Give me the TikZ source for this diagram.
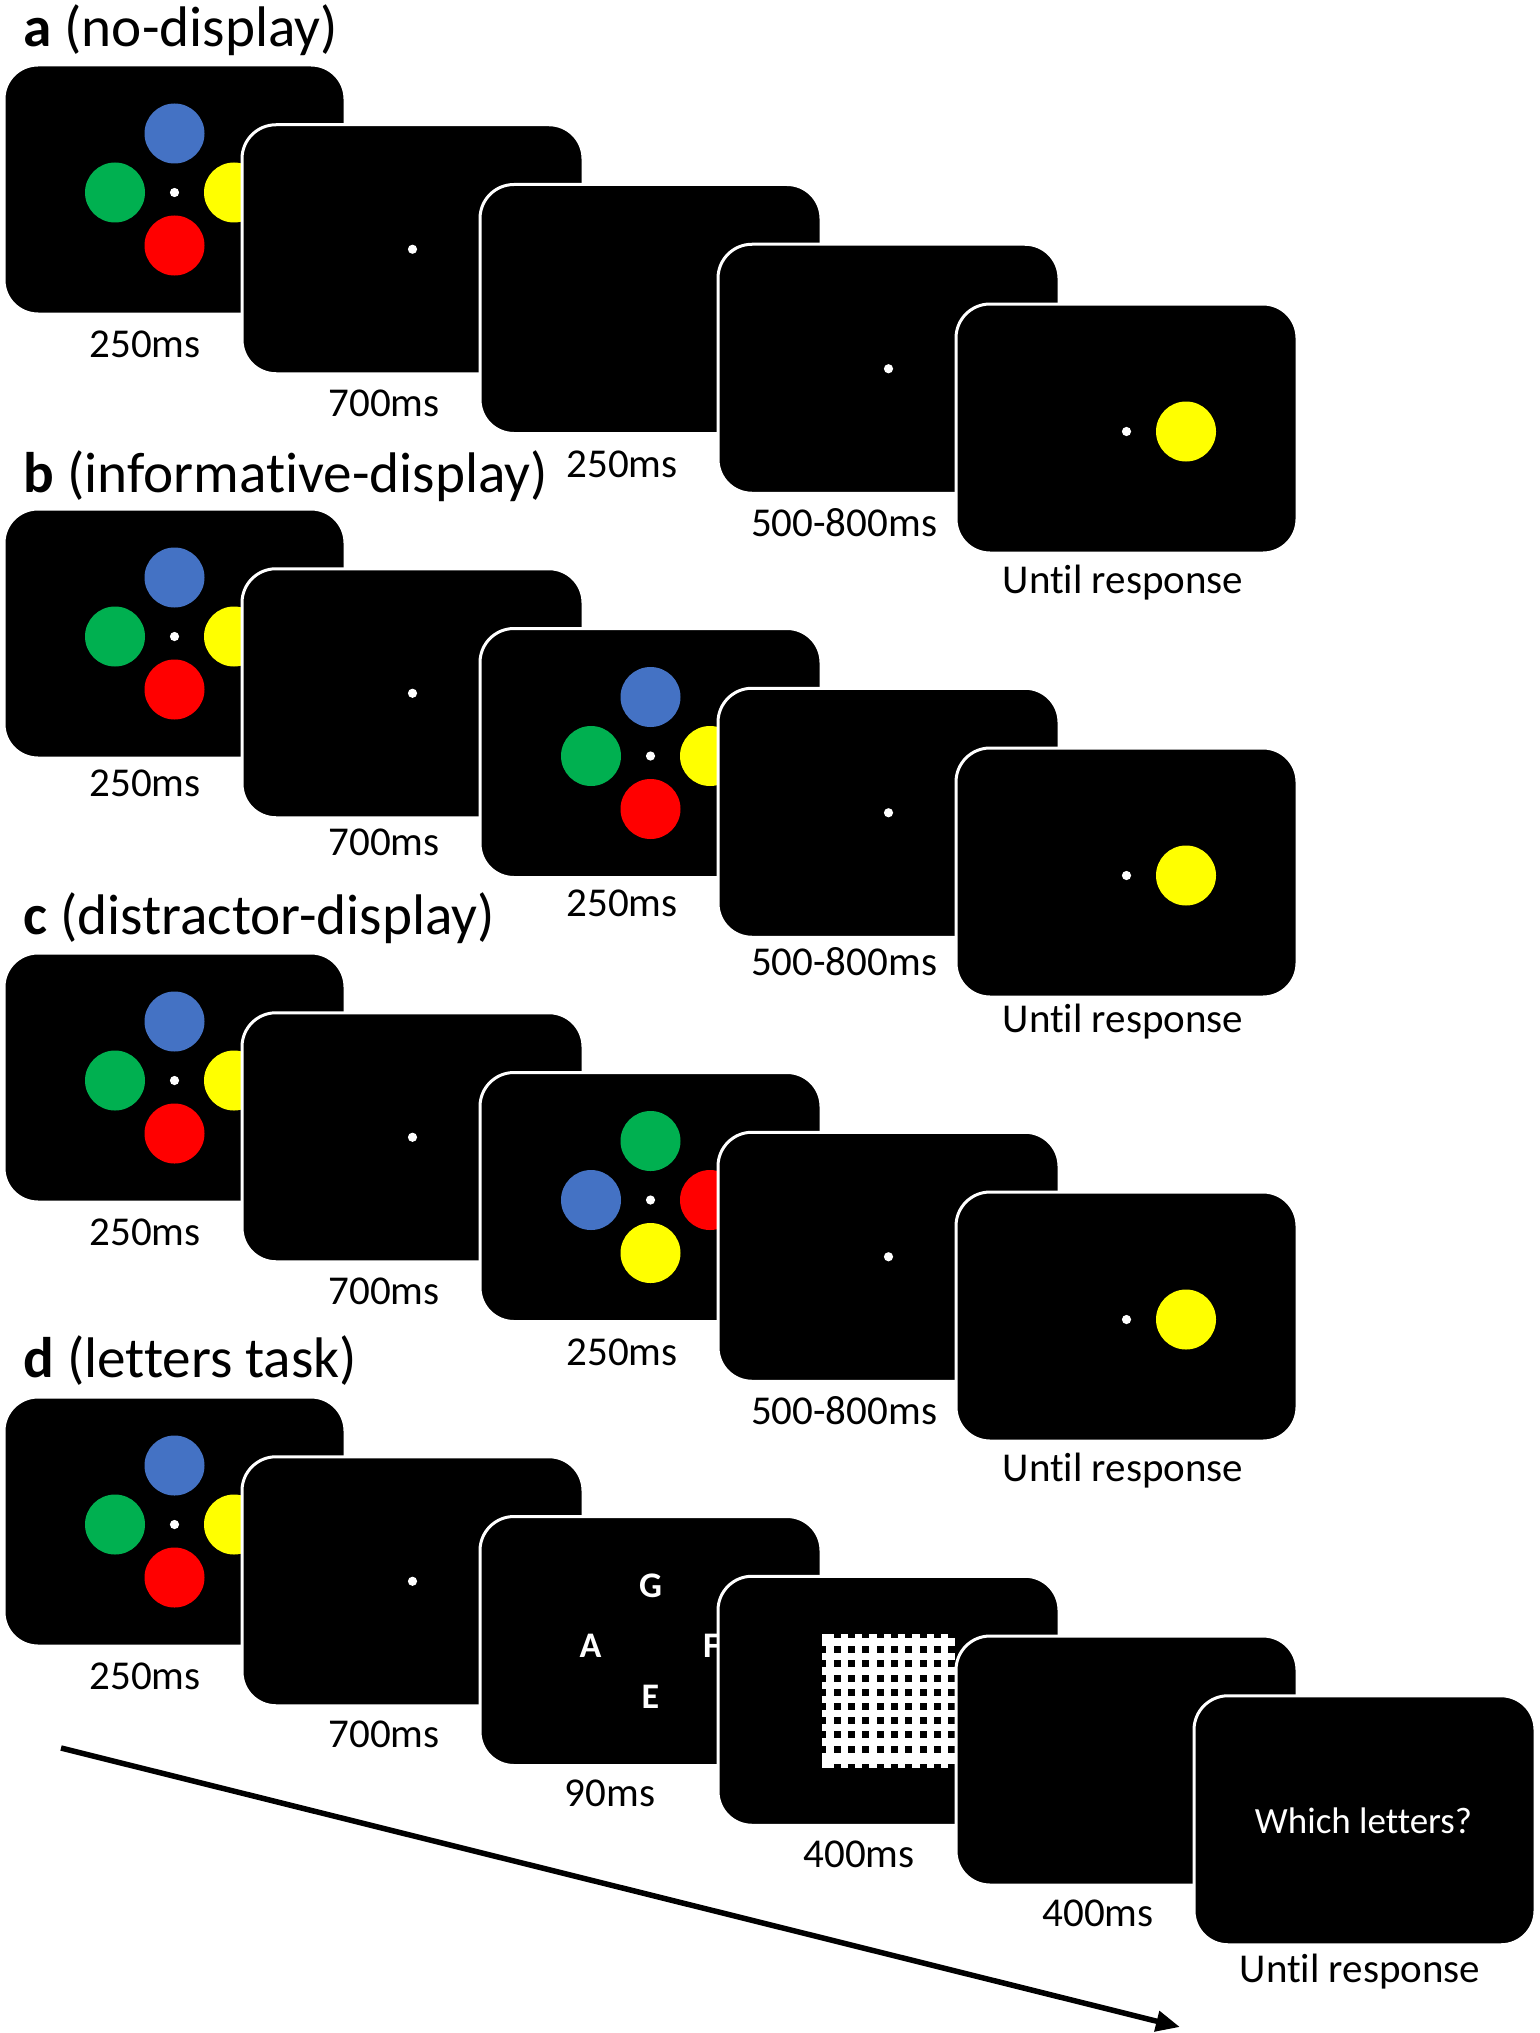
\documentclass[tikz,border=0pt]{standalone}
\usepackage{fontspec}
\setmainfont{Carlito}[Ligatures=NoCommon]
\usetikzlibrary{arrows.meta}
\definecolor{cblue}{HTML}{4472C4}
\definecolor{cgreen}{HTML}{00B050}
\definecolor{cred}{HTML}{FF0000}
\definecolor{cyellow}{HTML}{FFFF00}
\newcommand\fourdisc[5]{%
  \node[disc, fill=#2] (#1t) at ([shift={(0,-56)}]#1.center) {};
  \node[disc, fill=#3] (#1l) at ([shift={(-59.5,3)}]#1.center) {};
  \node[disc, fill=#4] (#1r) at ([shift={(59.5,3)}]#1.center) {};
  \node[disc, fill=#5] (#1b) at ([shift={(0,56)}]#1.center) {};
  \node[fixdot] (#1f) at ([shift={(0,3)}]#1.center) {};
}
\begin{document}
\begin{tikzpicture}[x=0.5pt,y=-0.5pt,
  screen/.style={draw=white, fill=black, line width=1.5pt, rounded corners=17pt,
    minimum width=170.5pt, minimum height=124.5pt, inner sep=0pt, outer sep=0pt},
  fixdot/.style={circle, fill=white, draw=none, minimum size=4.6pt, inner sep=0pt},
  disc/.style={circle, draw=none, minimum size=30pt, inner sep=0pt},
  dur/.style={font=\fontsize{20.5pt}{24pt}\selectfont, anchor=base, inner sep=0pt},
  ttl/.style={font=\fontsize{28.6pt}{33pt}\selectfont, anchor=base west, inner sep=0pt},
  letter/.style={text=white, font=\fontsize{18pt}{20pt}\selectfont\bfseries, inner sep=0pt},
  arr/.style={line width=2.75pt, -{Triangle[length=12pt, width=10pt]}}
]
\fill[white] (0,0) rectangle (1540,2033);
\useasboundingbox (0,0) rectangle (1540,2033);

% ---------------- panel a ----------------
\node[ttl] (ta) at (23,47) {\textbf{a} (no-display)};
\node[screen] (a1) at (174.5,189.5) {};
\fourdisc{a1}{cblue}{cgreen}{cyellow}{cred}
\node[dur] (la1) at ([shift={(141,43)}]a1.south west) {250ms};
\node[screen] (a2) at (412.5,249.25) {};
\node[fixdot] (a2f) at (a2.center) {};
\node[dur] (la2) at ([shift={(142,43)}]a2.south west) {700ms};
\node[screen] (a3) at (650.5,309) {};
\node[dur] (la3) at ([shift={(142,44)}]a3.south west) {250ms};
\node[screen] (a4) at (888.5,368.75) {};
\node[fixdot] (a4f) at (a4.center) {};
\node[dur] (la4) at ([shift={(126,43)}]a4.south west) {500-800ms};
\node[screen] (a5) at (1126.5,428.5) {};
\node[fixdot] (a5f) at ([shift={(0,3)}]a5.center) {};
\node[disc, fill=cyellow] (a5y) at ([shift={(59.5,3)}]a5.center) {};
\node[dur] (la5) at ([shift={(167,40)}]a5.south west) {Until response};

% ---------------- panel b ----------------
\begin{scope}[yshift=-222pt]
\node[ttl] (tb) at (23,48) {\textbf{b} (informative-display)};
\node[screen] (b1) at (174.5,189.5) {};
\fourdisc{b1}{cblue}{cgreen}{cyellow}{cred}
\node[dur] (lb1) at ([shift={(141,38)}]b1.south west) {250ms};
\node[screen] (b2) at (412.5,249.25) {};
\node[fixdot] (b2f) at (b2.center) {};
\node[dur] (lb2) at ([shift={(142,38)}]b2.south west) {700ms};
\node[screen] (b3) at (650.5,309) {};
\fourdisc{b3}{cblue}{cgreen}{cyellow}{cred}
\node[dur] (lb3) at ([shift={(142,39)}]b3.south west) {250ms};
\node[screen] (b4) at (888.5,368.75) {};
\node[fixdot] (b4f) at (b4.center) {};
\node[dur] (lb4) at ([shift={(126,38)}]b4.south west) {500-800ms};
\node[screen] (b5) at (1126.5,428.5) {};
\node[fixdot] (b5f) at ([shift={(0,3)}]b5.center) {};
\node[disc, fill=cyellow] (b5y) at ([shift={(59.5,3)}]b5.center) {};
\node[dur] (lb5) at ([shift={(167,35)}]b5.south west) {Until response};
\end{scope}

% ---------------- panel c ----------------
\begin{scope}[yshift=-444pt]
\node[ttl] (tc) at (23,46) {\textbf{c} (distractor-display)};
\node[screen] (c1) at (174.5,189.5) {};
\fourdisc{c1}{cblue}{cgreen}{cyellow}{cred}
\node[dur] (lc1) at ([shift={(141,43)}]c1.south west) {250ms};
\node[screen] (c2) at (412.5,249.25) {};
\node[fixdot] (c2f) at (c2.center) {};
\node[dur] (lc2) at ([shift={(142,43)}]c2.south west) {700ms};
\node[screen] (c3) at (650.5,309) {};
\fourdisc{c3}{cgreen}{cblue}{cred}{cyellow}
\node[dur] (lc3) at ([shift={(142,44)}]c3.south west) {250ms};
\node[screen] (c4) at (888.5,368.75) {};
\node[fixdot] (c4f) at (c4.center) {};
\node[dur] (lc4) at ([shift={(126,43)}]c4.south west) {500-800ms};
\node[screen] (c5) at (1126.5,428.5) {};
\node[fixdot] (c5f) at ([shift={(0,3)}]c5.center) {};
\node[disc, fill=cyellow] (c5y) at ([shift={(59.5,3)}]c5.center) {};
\node[dur] (lc5) at ([shift={(167,40)}]c5.south west) {Until response};
\end{scope}

% ---------------- panel d ----------------
\begin{scope}[yshift=-666pt]
\node[ttl] (td) at (23,45) {\textbf{d} (letters task)};
\node[screen] (d1) at (174.5,189.5) {};
\fourdisc{d1}{cblue}{cgreen}{cyellow}{cred}
\node[dur] (ld1) at ([shift={(141,43)}]d1.south west) {250ms};
\node[screen] (d2) at (412.5,249.25) {};
\node[fixdot] (d2f) at (d2.center) {};
\node[dur] (ld2) at ([shift={(142,42)}]d2.south west) {700ms};
\node[screen] (d3) at (650.5,309) {};
\node[letter] (dG) at ([shift={(0,-55)}]d3.center) {G};
\node[letter] (dA) at ([shift={(-60,5)}]d3.center) {A};
\node[letter] (dE) at ([shift={(0,56)}]d3.center) {E};
\node[letter] (dF) at ([shift={(61,5)}]d3.center) {F};
\node[dur] (ld3) at ([shift={(130,41)}]d3.south west) {90ms};
\node[screen] (d4) at (888.5,368.75) {};
% mask pattern
\begin{scope}[shift={(d4.center)}]
  \fill[white] (-66.5,-67) rectangle (66.5,67);
  \foreach \i in {0,...,8} {
    \fill[black] ({-51.2+14.3*\i-3.5},-67) rectangle +(7,4);
    \fill[black] ({-51.2+14.3*\i-3.5},63) rectangle +(7,4);
    \foreach \j in {0,...,7} {
      \fill[black] ({-51.2+14.3*\i-3.5},{-51+14.2*\j-3.5}) rectangle +(7,7);
    }
  }
  \foreach \j in {0,...,7} {
    \fill[black] (-66.5,{-51+14.2*\j-3.5}) rectangle +(4,7);
  }
\end{scope}
\node[dur] (ld4) at ([shift={(141,42)}]d4.south west) {400ms};
\node[screen] (d5) at (1126.5,428.5) {};
\node[dur] (ld5) at ([shift={(142,41)}]d5.south west) {400ms};
\node[screen] (d6) at (1364.5,488.25) {};
\node[text=white, font=\fontsize{18.5pt}{22pt}\selectfont, inner sep=0pt] (dq) at ([shift={(-1,1)}]d6.center) {Which letters?};
\node[dur] (ld6) at ([shift={(166,38)}]d6.south west) {Until response};
\end{scope}

% time arrow
\coordinate (ts) at (61,1748);
\coordinate (te) at (1180,2027);
\draw[arr] (ts) -- (te);
\end{tikzpicture}
\end{document}
